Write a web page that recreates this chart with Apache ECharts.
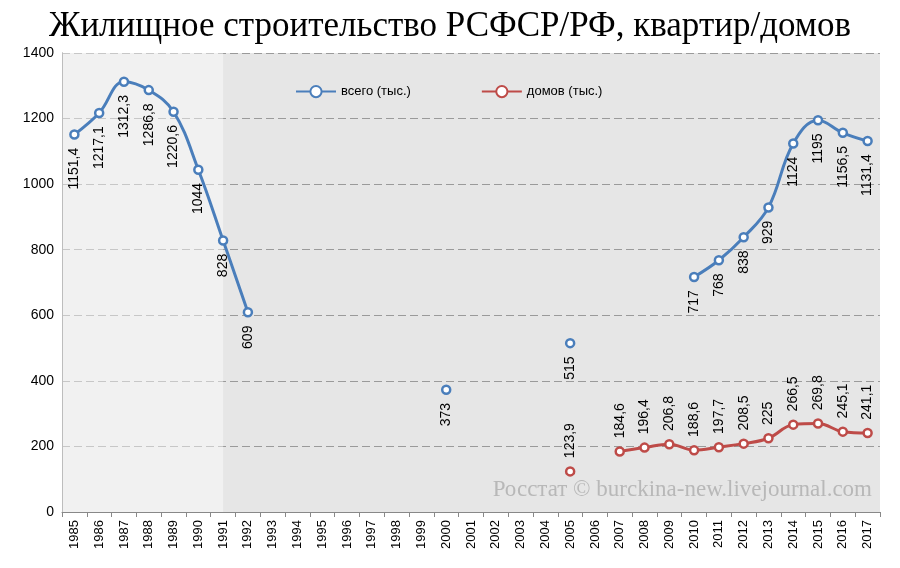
<!DOCTYPE html>
<html><head><meta charset="utf-8">
<script src="https://cdn.jsdelivr.net/npm/echarts@6/dist/echarts.min.js"></script>
<style>body{margin:0;background:#fff}#c{width:900px;height:568px}</style></head>
<body><div id="c"></div>
<script>
const years=['1985','1986','1987','1988','1989','1990','1991','1992','1993','1994','1995','1996','1997','1998','1999','2000','2001','2002','2003','2004','2005','2006','2007','2008','2009','2010','2011','2012','2013','2014','2015','2016','2017'];
const total=[1151.4,1217.1,1312.3,1286.8,1220.6,1044,828,609,null,null,null,null,null,null,null,373,null,null,null,null,515,null,null,null,null,717,768,838,929,1124,1195,1156.5,1131.4];
const houses=[null,null,null,null,null,null,null,null,null,null,null,null,null,null,null,null,null,null,null,null,123.9,null,184.6,196.4,206.8,188.6,197.7,208.5,225,266.5,269.8,245.1,241.1];
const fmt=p=>String(p.value).replace('.',',');
const chart=echarts.init(document.getElementById('c'));
chart.setOption({
 animation:false,
 title:{text:'Жилищное строительство РСФСР/РФ, квартир/домов',left:'center',top:4,textStyle:{fontFamily:'Liberation Serif',fontSize:35,fontWeight:'normal',color:'#000'}},
 grid:{left:62,right:20,top:53,bottom:56,backgroundColor:'#e6e6e6',show:true,borderWidth:0},
 legend:{top:80,left:290,itemGap:70,itemWidth:40,textStyle:{fontFamily:'Liberation Sans',fontSize:13,color:'#000'},data:['всего (тыс.)','домов (тыс.)']},
 xAxis:{type:'category',data:years,axisLabel:{rotate:90,fontFamily:'Liberation Sans',fontSize:13,color:'#000',interval:0},axisLine:{lineStyle:{color:'#888'}},axisTick:{show:true,interval:0}},
 yAxis:{type:'value',min:0,max:1400,interval:200,axisLabel:{fontFamily:'Liberation Sans',fontSize:14,color:'#000',formatter:v=>String(v)},splitLine:{lineStyle:{color:'#9a9a9a',type:[8,4]}},axisLine:{show:true,lineStyle:{color:'#888'}}},
 series:[
  {name:'всего (тыс.)',type:'line',data:total,smooth:0.4,connectNulls:false,lineStyle:{width:3,color:'#4a7ebb'},symbol:'circle',symbolSize:8,itemStyle:{color:'#fff',borderColor:'#4a7ebb',borderWidth:2.5},
   label:{show:true,position:'bottom',rotate:90,align:'right',verticalAlign:'middle',distance:8,formatter:fmt,fontFamily:'Liberation Sans',fontSize:14,color:'#000'}},
  {name:'домов (тыс.)',type:'line',data:houses,smooth:0.4,connectNulls:false,lineStyle:{width:3,color:'#be4b48'},symbol:'circle',symbolSize:8,itemStyle:{color:'#fff',borderColor:'#be4b48',borderWidth:2.5},
   label:{show:true,position:'top',rotate:90,align:'left',verticalAlign:'middle',distance:8,formatter:fmt,fontFamily:'Liberation Sans',fontSize:14,color:'#000'}}
 ]
});
const x0=chart.convertToPixel({xAxisIndex:0},'1985'), x1=chart.convertToPixel({xAxisIndex:0},'1991');
const half=(chart.convertToPixel({xAxisIndex:0},'1986')-x0)/2;
const yTop=chart.convertToPixel({yAxisIndex:0},1400), yBot=chart.convertToPixel({yAxisIndex:0},0);
chart.setOption({graphic:[
 {type:'rect',z:1,shape:{x:x0-half,y:yTop,width:x1-(x0-half),height:yBot-yTop},style:{fill:'rgba(255,255,255,0.45)'},silent:true},
 {type:'text',right:28,top:478,z:1,style:{text:'Росстат © burckina-new.livejournal.com',font:'23px "Liberation Serif"',fill:'#b8b8b8'}}
]});
</script></body></html>
